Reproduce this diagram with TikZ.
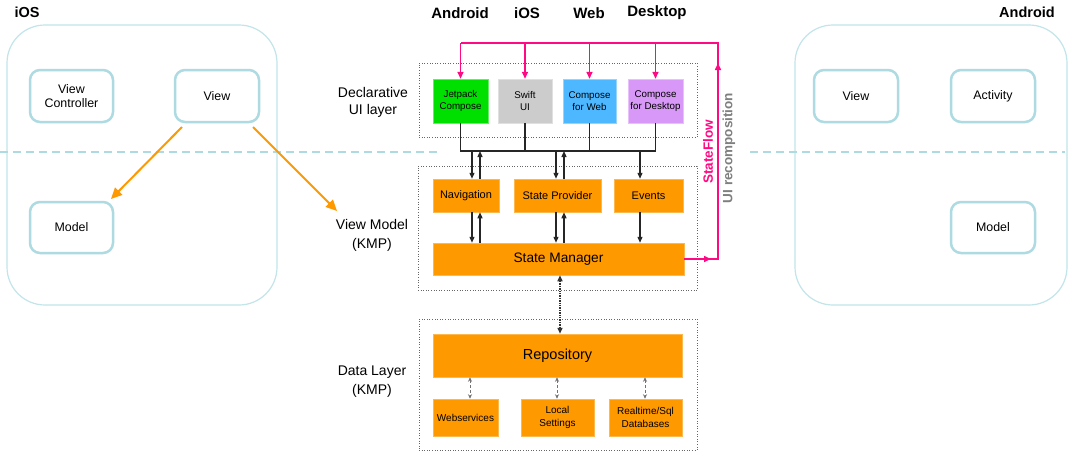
\documentclass[tikz,border=0pt]{standalone}
\usepackage{fontspec}
\setmainfont{Liberation Sans}
\usetikzlibrary{arrows.meta}
\definecolor{teal1}{HTML}{C2E5EA}
\definecolor{teal2}{HTML}{AEDBE1}
\definecolor{orng}{HTML}{FF9900}
\definecolor{mag}{HTML}{FF0A84}
\definecolor{jgreen}{HTML}{00E000}
\definecolor{sgray}{HTML}{CCCCCC}
\definecolor{wblue}{HTML}{4DB8FF}
\definecolor{dpurp}{HTML}{D898F8}
\definecolor{dotc}{HTML}{666666}
\definecolor{recol}{HTML}{7F7F7F}
\tikzset{
 bigbox/.style={draw=teal1, line width=1.2pt, rounded corners=38pt},
 sbox/.style={draw=teal2, line width=2.5pt, rounded corners=10pt, align=center, font=\fontsize{12.4}{14.2}\selectfont, inner sep=0pt},
 tdash/.style={draw=teal2, line width=2.5pt, dash pattern=on 8pt off 5pt},
 title/.style={font=\bfseries\fontsize{14.5}{17}\selectfont},
 head/.style={font=\bfseries\fontsize{15}{18}\selectfont},
 layer/.style={draw=dotc, dotted, line width=0.6pt},
 ui/.style={align=center, inner sep=0pt, font=\fontsize{9.8}{11.7}\selectfont},
 obox/.style={fill=orng, draw=orng!70!white, line width=0.5pt, align=center, inner sep=0pt, font=\fontsize{11}{13}\selectfont},
 lbl/.style={align=center, font=\fontsize{14}{19}\selectfont},
 barr/.style={draw=black!85, line width=1.3pt, -{Triangle[length=6pt,width=5pt]}},
 bline/.style={draw=black!85, line width=1.3pt},
 mline/.style={draw=mag, line width=1.5pt},
 marr/.style={draw=mag, line width=1.5pt, -{Triangle[length=7pt,width=6pt]}},
 oarr/.style={draw=orng, line width=2pt, -{Triangle[length=11pt,width=10pt]}},
 darr/.style={draw=black!80, line width=1.4pt, densely dotted, {Triangle[length=6pt,width=5pt]}-{Triangle[length=6pt,width=5pt]}},
 garr/.style={draw=black!55, line width=0.7pt, densely dashed, {Stealth[length=4.5pt,width=4pt]}-{Stealth[length=4.5pt,width=4pt]}},
}
\begin{document}
\begin{tikzpicture}[x=1pt,y=-1pt]
\fill[white] (0,0) rectangle (1080,458);
\useasboundingbox (0,0) rectangle (1080,458);

% ---- side platforms ----
\node[bigbox, minimum width=270pt, minimum height=280pt] (iosbox) at (142,165) {};
\node[bigbox, minimum width=272pt, minimum height=280pt] (andbox) at (931,165) {};
\node[title] (iostitle) at (27,12) {iOS};
\node[title] (andtitle) at (1027,12) {Android};

\draw[tdash] (0,152) -- (440,152);
\draw[tdash] (750,152) -- (1065,152);

\node[sbox, minimum width=83pt, minimum height=52pt] (ivc) at (71.5,96) {View\\Controller};
\node[sbox, minimum width=84pt, minimum height=52pt] (iview) at (217,96) {View};
\node[sbox, minimum width=83pt, minimum height=51pt] (imodel) at (71.5,227.5) {Model};

\node[sbox, minimum width=84pt, minimum height=52pt] (aview) at (856,96) {View};
\node[sbox, minimum width=84pt, minimum height=52pt] (aact) at (993,96) {Activity};
\node[sbox, minimum width=84pt, minimum height=51pt] (amodel) at (993,227.5) {Model};

% ---- headers ----
\node[head] (hand) at (460,13) {Android};
\node[head] (hios) at (527,13) {iOS};
\node[head] (hweb) at (589,13) {Web};
\node[head] (hdesk) at (657,13) {Desktop};

% ---- layer labels ----
\node[lbl, font=\fontsize{14}{17}\selectfont] (ldecl) at (373,102) {Declarative\\UI layer};
\node[lbl] (lvm) at (372,235) {View Model\\(KMP)};
\node[lbl] (ldata) at (372,382) {Data Layer\\(KMP)};

% ---- UI layer ----
\node[layer, minimum width=278pt, minimum height=74pt] (uibox) at (558,100) {};
\node[ui, fill=jgreen, draw=jgreen!60!white, minimum width=55pt, minimum height=44pt] (jc) at (460.5,101) {Jetpack\\Compose};
\node[ui, fill=sgray, draw=sgray!60!white, minimum width=54pt, minimum height=44pt] (sw) at (525,101) {Swift\\UI};
\node[ui, fill=wblue, draw=wblue!60!white, minimum width=53pt, minimum height=44pt] (web) at (589.5,101) {Compose\\for Web};
\node[ui, fill=dpurp, draw=dpurp!60!white, minimum width=55pt, minimum height=44pt] (dc) at (655.5,101) {Compose\\for Desktop};

% ---- View model layer ----
\node[layer, minimum width=279pt, minimum height=124pt] (vmbox) at (557.5,228) {};
\node[obox, minimum width=66pt, minimum height=33pt] (nav) at (466,195.5) {Navigation};
\node[obox, minimum width=87pt, minimum height=33pt] (sp) at (557.5,195.5) {State Provider};
\node[obox, minimum width=69pt, minimum height=33pt] (ev) at (648.5,195.5) {Events};
\node[obox, minimum width=251pt, minimum height=32pt, font=\fontsize{13.7}{16}\selectfont] (sm) at (558.5,259) {State Manager};

% ---- data layer ----
\node[layer, minimum width=278pt, minimum height=131pt] (databox) at (558,384.5) {};
\node[obox, minimum width=249pt, minimum height=43pt, font=\fontsize{14.5}{17}\selectfont] (repo) at (557.5,355.5) {Repository};
\node[obox, minimum width=65pt, minimum height=37pt, font=\fontsize{10}{12.5}\selectfont] (ws) at (465.5,417.5) {Webservices};
\node[obox, minimum width=73pt, minimum height=37pt, font=\fontsize{10}{12.5}\selectfont] (ls) at (557.5,417.5) {Local\\Settings};
\node[obox, minimum width=73pt, minimum height=37pt, font=\fontsize{10}{12.5}\selectfont] (rt) at (645.5,417.5) {Realtime/Sql\\Databases};

% ---- rotated labels ----
\node[rotate=90, text=mag, font=\bfseries\fontsize{13.5}{16}\selectfont] (sflow) at (708,152) {StateFlow};
\node[rotate=90, text=recol, font=\bfseries\fontsize{13.5}{16}\selectfont] (uirec) at (729,148) {UI recomposition};

% ---- black connectors ----
\coordinate (bus) at (0,151);
\draw[bline] (jc.south) -- (jc.south |- bus) -- (dc.south |- bus) -- (dc.south);
\draw[bline] (sw.south) -- (sw.south |- bus);
\draw[bline] (web.south) -- (web.south |- bus);

\coordinate (n1) at (472,151);
\coordinate (n2) at (480,151);
\coordinate (p1) at (556,151);
\coordinate (p2) at (564,151);
\coordinate (e1) at (640,151);

\draw[barr] (n1) -- (n1 |- nav.north);
\draw[barr] (n2 |- nav.north) -- (n2);
\draw[barr] (p1) -- (p1 |- sp.north);
\draw[barr] (p2 |- sp.north) -- (p2);
\draw[barr] (e1) -- (e1 |- ev.north);

\draw[barr] (n1 |- nav.south) -- (n1 |- sm.north);
\draw[barr] (n2 |- sm.north) -- (n2 |- nav.south);
\draw[barr] (p1 |- sp.south) -- (p1 |- sm.north);
\draw[barr] (p2 |- sm.north) -- (p2 |- sp.south);
\draw[barr] (e1 |- ev.south) -- (e1 |- sm.north);

% ---- magenta StateFlow loop ----
\coordinate (mr) at (718,259);
\coordinate (mt) at (718,43);
\coordinate (mra) at (711,259);
\coordinate (mua) at (718,63);
\draw[mline] (sm.east) -- (mr) -- (mt) -- (jc.north |- mt);
\draw[marr] (sm.east) -- (mra);
\draw[marr] (mr) -- (mua);
\draw[marr] (jc.north |- mt) -- (jc.north);
\draw[marr] (sw.north |- mt) -- (sw.north);
\draw[marr] (web.north |- mt) -- (web.north);
\draw[marr] (dc.north |- mt) -- (dc.north);

% ---- state manager <-> repository ----
\coordinate (dx) at (560,0);
\draw[darr] (dx |- sm.south) -- (dx |- repo.north);

% ---- repository <-> sources ----
\coordinate (g1) at (470,0);
\coordinate (g2) at (557,0);
\coordinate (g3) at (645,0);
\draw[garr] (g1 |- repo.south) -- (g1 |- ws.north);
\draw[garr] (g2 |- repo.south) -- (g2 |- ls.north);
\draw[garr] (g3 |- repo.south) -- (g3 |- rt.north);

% ---- orange arrows ----
\coordinate (o1) at (182,127);
\coordinate (o1e) at (111,199);
\coordinate (o2) at (253,127);
\coordinate (o2e) at (337,211);
\draw[oarr] (o1) -- (o1e);
\draw[oarr] (o2) -- (o2e);
\end{tikzpicture}
\end{document}
